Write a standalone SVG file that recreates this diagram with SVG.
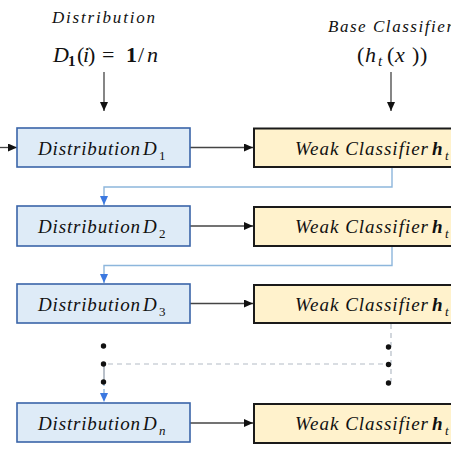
<svg xmlns="http://www.w3.org/2000/svg" width="451" height="451" viewBox="0 0 451 451">
<style>
text{font-family:"Liberation Serif","DejaVu Serif",serif;fill:#111;font-style:italic}
.dist rect{fill:#deebf7;stroke:#3a64a8;stroke-width:1.6}
.weak rect{fill:#fff2cc;stroke:#1a1a1a;stroke-width:2}
.bt{font-size:19px}
.up{font-style:normal}
.bold{font-weight:bold}
.sub{font-size:13px}
.blk{stroke:#444;stroke-width:1.3;fill:none}
.blu{stroke:#8db6dc;stroke-width:1.4;fill:none}
.gry{stroke:#b4bcc6;stroke-width:1.2;fill:none;stroke-dasharray:5 4}
</style>
<defs>
<marker id="ab" markerUnits="userSpaceOnUse" markerWidth="9" markerHeight="8" refX="9" refY="4" orient="auto"><path d="M0,0 L9,4 L0,8 z" fill="#111"/></marker>
<marker id="au" markerUnits="userSpaceOnUse" markerWidth="9" markerHeight="8" refX="9" refY="4" orient="auto"><path d="M0,0 L9,4 L0,8 z" fill="#3b78e0"/></marker>
</defs>

<g id="label-distribution">
<text x="52" y="23" font-size="17" textLength="103" lengthAdjust="spacing">Distribution</text>
<text y="62" font-size="22"><tspan x="53">D</tspan><tspan x="68" class="up bold" font-size="15" dy="4">1</tspan><tspan x="77" class="up" dy="-4">(</tspan><tspan x="83">i</tspan><tspan x="88" class="up">)</tspan><tspan x="102" class="up">=</tspan><tspan x="126" class="up bold">1</tspan><tspan x="138" class="up">/</tspan><tspan x="147">n</tspan></text>
</g>
<g id="label-base">
<text x="328" y="32" font-size="17" textLength="125" lengthAdjust="spacing">Base Classifier</text>
<text y="62" font-size="22"><tspan x="357" class="up">(</tspan><tspan x="365">h</tspan><tspan x="378" font-size="15" dy="4">t</tspan><tspan x="387" class="up" dy="-4">(</tspan><tspan x="395">x</tspan><tspan x="412" class="up">)</tspan><tspan x="420" class="up">)</tspan></text>
</g>

<g id="connectors">
<line class="blk" x1="104" y1="72" x2="104" y2="111" marker-end="url(#ab)"/>
<line class="blk" x1="391" y1="72" x2="391" y2="111" marker-end="url(#ab)"/>
<line class="blk" x1="0" y1="147.5" x2="17" y2="147.5" marker-end="url(#ab)"/>
<line class="blk" x1="190" y1="147.5" x2="253" y2="147.5" marker-end="url(#ab)"/>
<line class="blk" x1="190" y1="226" x2="253" y2="226" marker-end="url(#ab)"/>
<line class="blk" x1="190" y1="303.5" x2="253" y2="303.5" marker-end="url(#ab)"/>
<line class="blk" x1="190" y1="423" x2="253" y2="423" marker-end="url(#ab)"/>
<path class="blu" d="M392,168 V187 H104 V205" marker-end="url(#au)"/>
<path class="blu" d="M392,246 V265.5 H104 V283" marker-end="url(#au)"/>
<line class="gry" x1="391" y1="324" x2="391" y2="382"/>
<line class="gry" x1="108" y1="364" x2="386" y2="364"/>
<line x1="104" y1="364" x2="104" y2="382" stroke="#8a96a6" stroke-width="1.2"/>
<line x1="104" y1="382" x2="104" y2="402" stroke="#8db6dc" stroke-width="1.4" stroke-dasharray="4 3" marker-end="url(#au)"/>
<g fill="#111">
<circle cx="103.5" cy="346" r="2.7"/><circle cx="103.5" cy="364" r="2.7"/><circle cx="103.5" cy="382" r="2.7"/>
<circle cx="388.5" cy="347" r="2.7"/><circle cx="388.5" cy="364.5" r="2.7"/><circle cx="388.5" cy="383" r="2.7"/>
</g>
</g>

<g id="dist1" class="dist"><rect x="17" y="128" width="173" height="39"/>
<text class="bt" x="38" y="155" textLength="102" lengthAdjust="spacing">Distribution</text><text class="bt" x="143" y="155">D</text><text class="sub up" x="159" y="160">1</text></g>
<g id="dist2" class="dist"><rect x="17" y="206" width="173" height="40"/>
<text class="bt" x="38" y="233" textLength="102" lengthAdjust="spacing">Distribution</text><text class="bt" x="143" y="233">D</text><text class="sub up" x="159" y="238">2</text></g>
<g id="dist3" class="dist"><rect x="17" y="284" width="173" height="39"/>
<text class="bt" x="38" y="311" textLength="102" lengthAdjust="spacing">Distribution</text><text class="bt" x="143" y="311">D</text><text class="sub up" x="159" y="316">3</text></g>
<g id="distn" class="dist"><rect x="17" y="403" width="173" height="39"/>
<text class="bt" x="38" y="430" textLength="102" lengthAdjust="spacing">Distribution</text><text class="bt" x="143" y="430">D</text><text class="sub" x="159" y="435">n</text></g>

<g id="weak1" class="weak"><rect x="254" y="128.5" width="220" height="38.5"/>
<text class="bt" x="295" y="155" textLength="133" lengthAdjust="spacing">Weak Classifier</text><text class="bt bold" x="432" y="155">h</text><text class="sub" x="445" y="160">t</text></g>
<g id="weak2" class="weak"><rect x="254" y="207" width="220" height="39"/>
<text class="bt" x="295" y="233" textLength="133" lengthAdjust="spacing">Weak Classifier</text><text class="bt bold" x="432" y="233">h</text><text class="sub" x="445" y="238">t</text></g>
<g id="weak3" class="weak"><rect x="254" y="285" width="220" height="38"/>
<text class="bt" x="295" y="311" textLength="133" lengthAdjust="spacing">Weak Classifier</text><text class="bt bold" x="432" y="311">h</text><text class="sub" x="445" y="316">t</text></g>
<g id="weakn" class="weak"><rect x="254" y="404" width="220" height="39"/>
<text class="bt" x="295" y="430" textLength="133" lengthAdjust="spacing">Weak Classifier</text><text class="bt bold" x="432" y="430">h</text><text class="sub" x="445" y="435">t</text></g>
</svg>
